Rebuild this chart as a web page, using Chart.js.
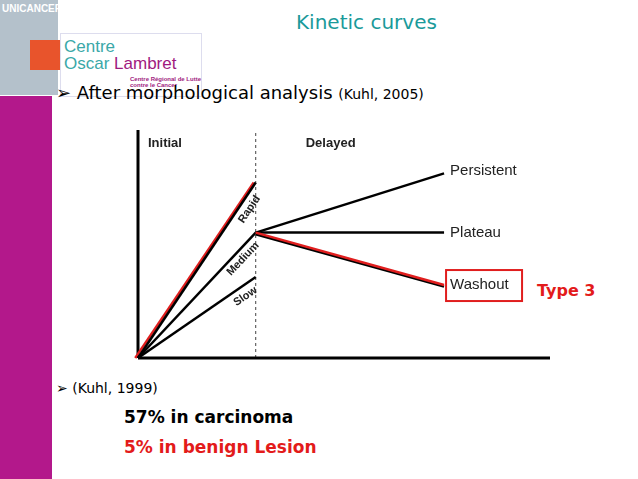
<!DOCTYPE html>
<html><head><meta charset="utf-8">
<script src="https://cdn.jsdelivr.net/npm/chart.js@4"></script>
<style>
body{margin:0;width:638px;height:479px;background:#fff;position:relative;overflow:hidden;font-family:"DejaVu Sans",sans-serif}
.abs{position:absolute;white-space:nowrap}
</style></head><body>
<div class="abs" style="left:0;top:0;width:58px;height:95px;background:#b4c1cb"></div>
<div class="abs" style="left:2px;top:3px;font:bold 10px 'Liberation Sans Narrow',sans-serif;color:#fff">UNI<span style="color:#fff">CANCER</span></div>
<div class="abs" style="left:30px;top:40px;width:30px;height:30px;background:#e8542c"></div>
<div class="abs" style="left:0;top:96px;width:52px;height:383px;background:#b3188b"></div>
<div class="abs" style="left:60px;top:33px;width:140px;height:62px;background:#fff;border:1px solid #dde"></div>
<div class="abs" style="left:64px;top:38px;font:17px 'Liberation Sans',sans-serif;color:#3aa8a8;line-height:17px">Centre<br>Oscar <span style="color:#a01a80">Lambret</span></div>
<div class="abs" style="left:130px;top:76px;font:bold 6px sans-serif;color:#a01a80">Centre Régional de Lutte<br>contre le Cancer</div>
<div class="abs" style="left:296px;top:10px;font:20px 'DejaVu Sans',sans-serif;color:#1a9a9a">Kinetic curves</div>
<div class="abs" style="left:56px;top:82px;font:18px 'DejaVu Sans',sans-serif">➢ After morphological analysis <span style="font-size:14px">(Kuhl, 2005)</span></div>
<div class="abs" style="left:56px;top:380px;font:14px 'DejaVu Sans',sans-serif">➢ (Kuhl, 1999)</div>
<div class="abs" style="left:124px;top:407px;font:bold 17px 'DejaVu Sans',sans-serif">57% in carcinoma</div>
<div class="abs" style="left:124px;top:437px;font:bold 17px 'DejaVu Sans',sans-serif;color:#e31b1b">5% in benign Lesion</div>
<div class="abs" style="left:537px;top:281px;font:bold 16px 'DejaVu Sans',sans-serif;color:#e31b1b">Type 3</div>
<div class="abs" style="left:128px;top:120px;width:432px;height:248px"><canvas id="c"></canvas></div>
<script>
const phaseSplit = 3;           // end of initial phase (time units)
const xMax = 10.5, yMax = 10;
const initialNames = ['Rapid', 'Medium', 'Slow'];
const initialPeaks = [7.7, 5.5, 3.55];
const delayedNames = ['Persistent', 'Plateau', 'Washout'];
const delayedStart = 5.5;
const delayedEnds = [8.1, 5.5, 3.2];
const delayedEndTime = 7.8;

const datasets = [];
const line = (pts, color, w, order, dash) => ({data: pts, borderColor: color, borderWidth: w, borderDash: dash || [], order: order, showLine: true, pointRadius: 0, fill: false, clip: false, tension: 0});
datasets.push(line([{x:0,y:0},{x:0,y:yMax}], '#000', 3, 3));
datasets.push(line([{x:0,y:0},{x:xMax,y:0}], '#000', 3, 3));
datasets.push(line([{x:phaseSplit,y:0},{x:phaseSplit,y:yMax}], '#444', 1, 3, [3,3]));
datasets.push(line([{x:-0.07,y:0},{x:phaseSplit - 0.05,y:initialPeaks[0]}], '#e01e1e', 2.5, 1));
datasets.push(line([{x:phaseSplit,y:delayedStart},{x:delayedEndTime,y:delayedEnds[2]}], '#e01e1e', 2.5, 0));
initialPeaks.forEach(v => datasets.push(line([{x:0,y:0},{x:phaseSplit,y:v}], '#000', 2.5, 0)));
delayedEnds.forEach((v, i) => datasets.push(line([{x:phaseSplit,y:delayedStart - (i == 2 ? 0.07 : 0)},{x:delayedEndTime,y:v - (i == 2 ? 0.07 : 0)}], '#000', 2.5, i == 2 ? 2 : 0)));

const labels = {
  id: 'labels',
  afterDraw(ch) {
    const c = ch.ctx, xs = ch.scales.x, ys = ch.scales.y;
    const px = v => xs.getPixelForValue(v), py = v => ys.getPixelForValue(v);
    c.save();
    c.fillStyle = '#222';
    c.font = 'bold 13px "Liberation Sans", Arial';
    c.textBaseline = 'middle';
    c.fillText('Initial', px(0) + 10, py(yMax) + 13);
    c.fillText('Delayed', px(phaseSplit) + 50, py(yMax) + 13);
    c.font = '15px "Liberation Sans", Arial';
    delayedNames.forEach((n, i) => c.fillText(n, px(delayedEndTime) + 6, py(delayedEnds[i]) - (i == 0 ? 2 : 0)));
    const wx = px(delayedEndTime) + 2, wy = py(delayedEnds[2]);
    c.strokeStyle = '#e01e1e'; c.lineWidth = 2;
    c.strokeRect(wx, wy - 15, 76, 31);
    // rotated labels just below the end of each initial curve
    c.font = 'bold 11px "Liberation Sans", Arial';
    c.textAlign = 'right';
    c.textBaseline = 'top';
    initialPeaks.forEach((v, i) => {
      const ang = Math.atan2(py(v) - py(0), px(phaseSplit) - px(0));
      c.save();
      c.translate(px(phaseSplit) - 4, py(v) + [10, 6, 6][i]);
      c.rotate(ang);
      c.fillText(initialNames[i], 0, 2);
      c.restore();
    });
    c.save();
    c.font = '14px "Liberation Sans", Arial';
    c.textAlign = 'center';
    c.textBaseline = 'middle';
    c.translate(px(0) - 20, py(yMax / 2) + 10);
    c.rotate(-Math.PI / 2);
    c.fillText('Signal Intensity', 0, 0);
    c.restore();
    c.restore();
  }
};

new Chart(document.getElementById('c'), {
  type: 'scatter',
  data: {datasets},
  options: {
    responsive: true, maintainAspectRatio: false, animation: false,
    layout: {padding: 10},
    plugins: {legend: {display: false}, tooltip: {enabled: false}},
    scales: {
      x: {type: 'linear', min: 0, max: xMax, display: false},
      y: {type: 'linear', min: 0, max: yMax, display: false}
    }
  },
  plugins: [labels]
});
</script>
</body></html>
